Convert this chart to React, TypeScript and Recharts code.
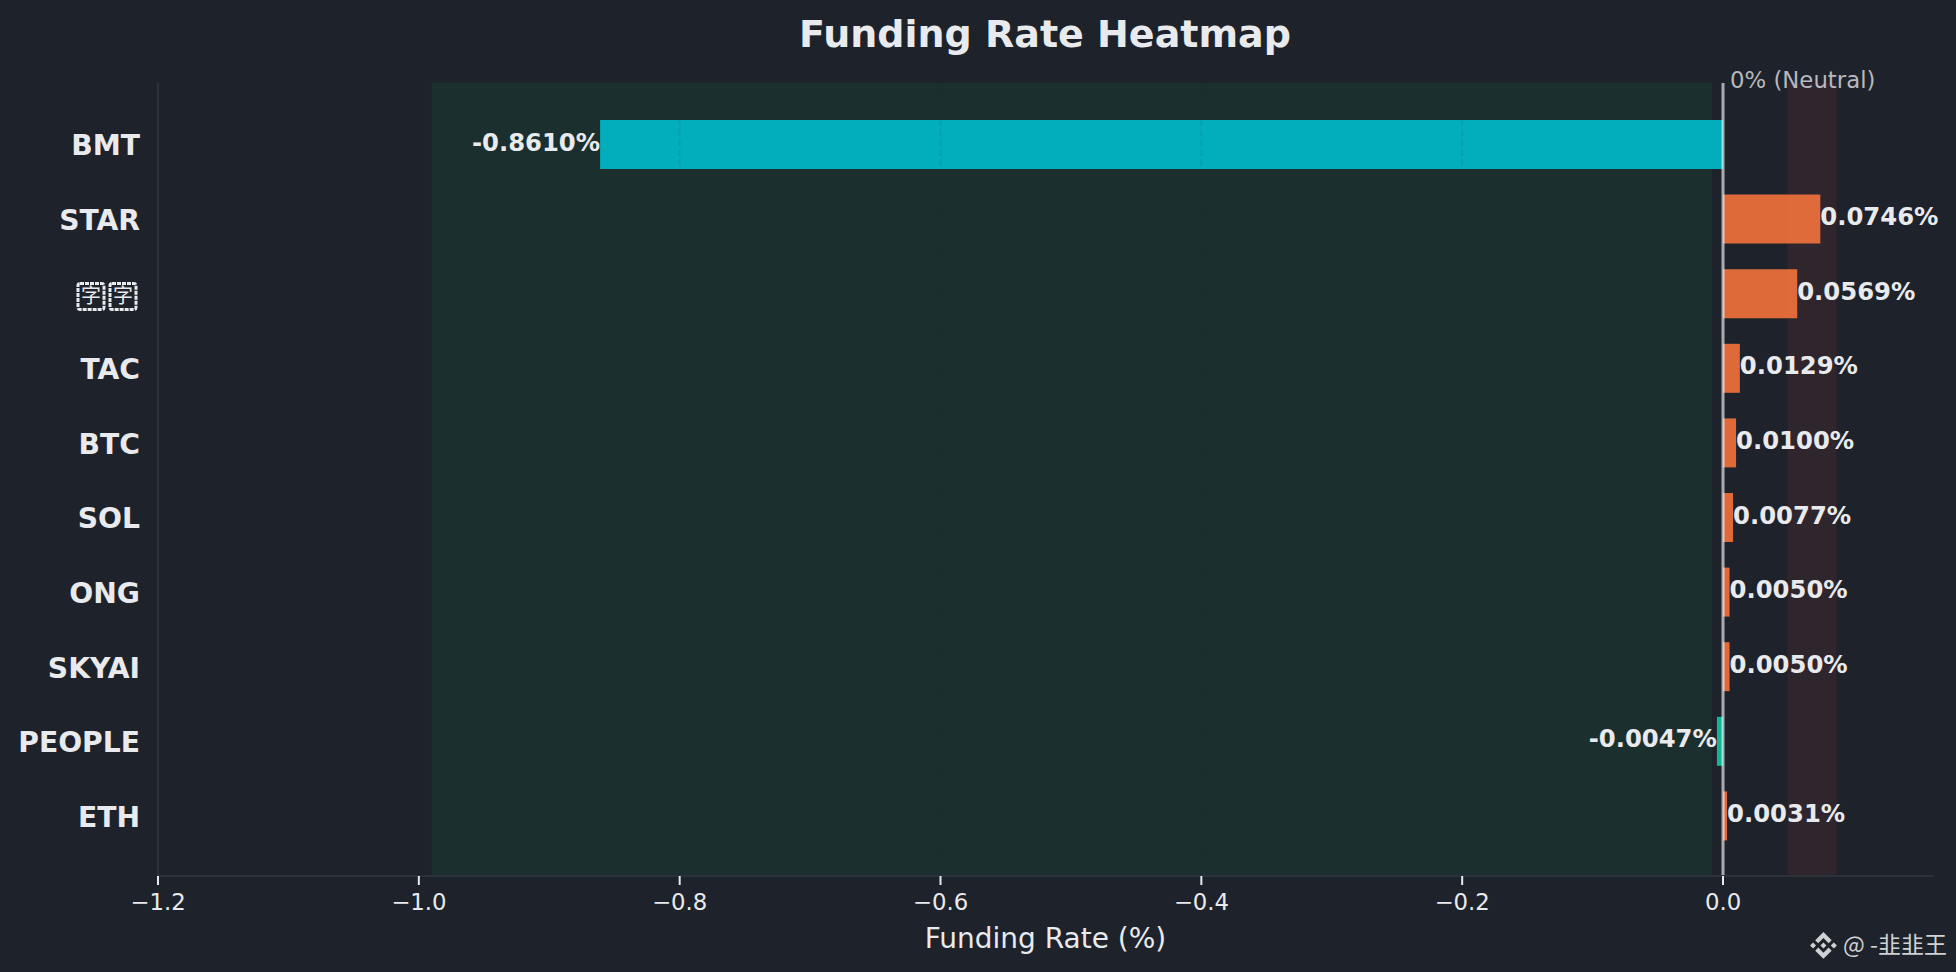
import { BarChart, Bar, XAxis, YAxis, Cell, LabelList, ReferenceArea, ReferenceLine, Text } from "recharts";

const symbols = ["BMT", "STAR", "字字", "TAC", "BTC", "SOL", "ONG", "SKYAI", "PEOPLE", "ETH"];
const rates = [-0.861, 0.0746, 0.0569, 0.0129, 0.01, 0.0077, 0.005, 0.005, -0.0047, 0.0031];
const barColors = ["#00bccb", "#f3723c", "#f3723c", "#f3723c", "#f3723c", "#f3723c", "#f3723c", "#f3723c", "#10c4a0", "#f3723c"];
const xTicks = [-1.2, -1.0, -0.8, -0.6, -0.4, -0.2, 0];
const gridTicks = [-0.8, -0.6, -0.4, -0.2];
const greenBand = [-0.99, -0.0085];
const redBand = [0.0495, 0.087];

const chartData = symbols.map((name, i) => ({ name, rate: rates[i] }));

const BG = "#1e222a";
const SPINE = "#2c313a";
const TEXT = "#e8eaed";
const FONT = "'DejaVu Sans', sans-serif";
const PLOT_TOP = 83;
const PLOT_HEIGHT = 793;

const formatTick = (v: number) => (v < 0 ? "\u2212" : "") + Math.abs(v).toFixed(1);

const CategoryTick = ({ x, y, payload }: any) => {
  const right = x - 14;
  if (payload.value === "字字") {
    // missing-glyph boxes, as the font in the original could not show this symbol
    return (
      <g>
        {[0, 1].map((i) => (
          <g key={i}>
            <rect x={right - 62 + i * 32} y={y - 10} width={26} height={26} rx={2} fill="none"
              stroke={TEXT} strokeWidth={3} strokeDasharray="4 1" />
            <text x={right - 49 + i * 32} y={y + 9.5} textAnchor="middle" fontSize={20} fill={TEXT}
              fontFamily="'Noto Sans CJK SC'">字</text>
          </g>
        ))}
      </g>
    );
  }
  return (
    <text x={right} y={y + 11} textAnchor="end" fontSize={28.2} fontWeight={700} fill={TEXT} fontFamily={FONT}>
      {payload.value}
    </text>
  );
};

const RateLabel = ({ x, y, width, height, value }: any) => {
  const end = x + width;
  const negative = value < 0;
  return (
    <text x={end} y={y + height / 2 + 6} textAnchor={negative ? "end" : "start"}
      fontSize={24.3} fontWeight={700} fill={TEXT} fontFamily={FONT}>
      {value.toFixed(4)}%
    </text>
  );
};

const NeutralLabel = ({ viewBox }: any) => (
  <text x={viewBox.x + 7} y={viewBox.y + 5} fontSize={22.8} fill="#b6b9bd" fontFamily={FONT}>
    0% (Neutral)
  </text>
);

// bands run the full height of the plot, past the category padding
const FullHeightBand = ({ x, width, fill, fillOpacity, stroke, strokeOpacity }: any) => (
  <rect x={x} y={PLOT_TOP} width={width} height={PLOT_HEIGHT} fill={fill} fillOpacity={fillOpacity}
    stroke={stroke} strokeOpacity={strokeOpacity} />
);

export default function App() {
  return (
    <div style={{ position: "fixed", left: 0, top: 0, width: 1956, height: 972, background: BG }}>
      <BarChart width={1956} height={972} data={chartData} layout="vertical"
        margin={{ top: PLOT_TOP, right: 23, bottom: 0, left: 0 }}>
        <XAxis type="number" domain={[-1.2, 0.161]} ticks={xTicks} tickFormatter={formatTick} height={96}
          stroke={SPINE} axisLine={{ stroke: SPINE, strokeWidth: 2 }} tickLine={{ stroke: TEXT, strokeWidth: 2 }}
          tickSize={9} tickMargin={9} tick={{ fill: TEXT, fontSize: 22.8, fontFamily: FONT }}
          label={{ value: "Funding Rate (%)", position: "insideBottom", offset: 24, fill: TEXT, fontSize: 28, fontFamily: FONT }} />
        <YAxis type="category" dataKey="name" width={158} padding={{ top: 24, bottom: 23 }} interval={0}
          axisLine={{ stroke: SPINE, strokeWidth: 2 }} tickLine={{ stroke: SPINE, strokeWidth: 1 }} tickSize={2}
          tick={<CategoryTick />} />
        <ReferenceArea x1={greenBand[0]} x2={greenBand[1]} fill="#00c878" fillOpacity={0.08} stroke="#00c878" strokeOpacity={0.03}
          shape={<FullHeightBand />} />
        <ReferenceArea x1={redBand[0]} x2={redBand[1]} fill="#ff4757" fillOpacity={0.08} stroke="#ff4757" strokeOpacity={0.03}
          shape={<FullHeightBand />} />
        <Bar dataKey="rate" barSize={49} isAnimationActive={false}>
          {chartData.map((_, i) => (
            <Cell key={i} fill={barColors[i]} fillOpacity={0.9} />
          ))}
          <LabelList dataKey="rate" content={<RateLabel />} />
        </Bar>
        {gridTicks.map((t) => (
          <ReferenceLine key={t} x={t} stroke="#2c313a" strokeOpacity={0.1} strokeWidth={2} strokeDasharray="7 3" />
        ))}
        <ReferenceLine x={0} stroke="#ffffff" strokeOpacity={0.62} strokeWidth={3} label={<NeutralLabel />} />
        <Text x={1045} y={34} textAnchor="middle" verticalAnchor="middle" fontSize={38} fontWeight={700} fill={TEXT} fontFamily={FONT}>
          Funding Rate Heatmap
        </Text>
        <g transform="translate(1810 932) scale(1.12)" fill="#cfd1d3">
          <path d="M16.624 13.9202l2.7175 2.7154-7.353 7.353-7.353-7.352 2.7175-2.7164 4.6355 4.6595 4.6356-4.6595zm4.6366-4.6366L24 12l-2.7154 2.7164L18.5682 12l2.6924-2.7164zm-9.272.001l2.7163 2.6914-2.7164 2.7174v-.001L9.2721 12l2.7164-2.7154zm-9.2722-.001L5.4088 12l-2.6914 2.6924L0 12l2.7164-2.7164zM11.9885.0115l7.353 7.329-2.7174 2.7154-4.6356-4.6356-4.6355 4.6595-2.7174-2.7154 7.353-7.353z" />
        </g>
        <text x={1843} y={953} fontSize={23} fill="#cfd1d3" fontFamily="'Noto Sans CJK SC'">@ -韭韭王</text>
      </BarChart>
    </div>
  );
}
